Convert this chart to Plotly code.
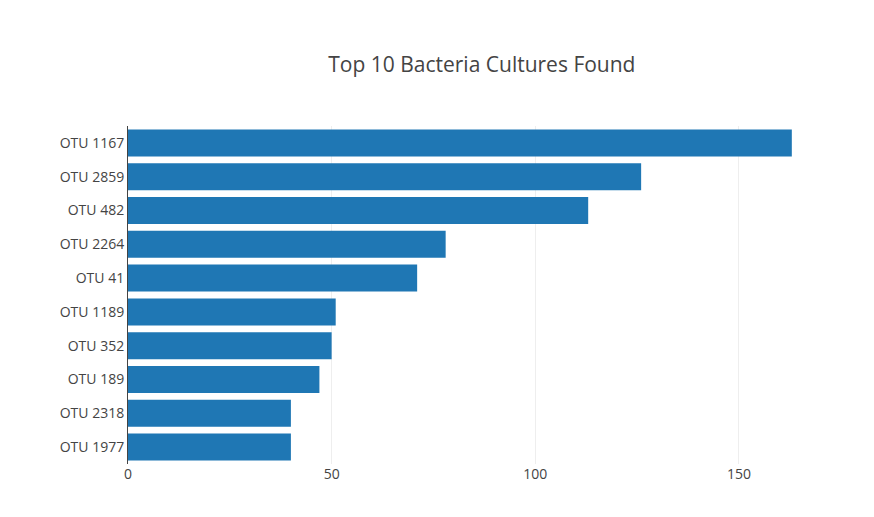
import plotly.graph_objects as go

otu_labels = ['OTU 1167', 'OTU 2859', 'OTU 482', 'OTU 2264', 'OTU 41',
              'OTU 1189', 'OTU 352', 'OTU 189', 'OTU 2318', 'OTU 1977']
sample_values = [163, 126, 113, 78, 71, 51, 50, 47, 40, 40]

fig = go.Figure(go.Bar(
    x=sample_values[::-1],
    y=otu_labels[::-1],
    orientation='h',
    marker=dict(color='#1f77b4'),
))
fig.update_layout(
    title=dict(text='Top 10 Bacteria Cultures Found', x=0.525, xref='paper',
               y=0.905, font=dict(size=21)),
    template='none',
    font=dict(family='Open Sans', color='#444', size=14),
    width=874, height=517,
    margin=dict(l=120, r=80, t=118, b=61),
    bargap=0.2,
)
fig.update_xaxes(showgrid=True, gridcolor='#eee', zeroline=False, ticks='',
                 range=[0, 165.5], dtick=50)
fig.update_yaxes(showgrid=False, showline=True, linecolor='#444', linewidth=1, ticks='')
fig.write_html('out.html')
